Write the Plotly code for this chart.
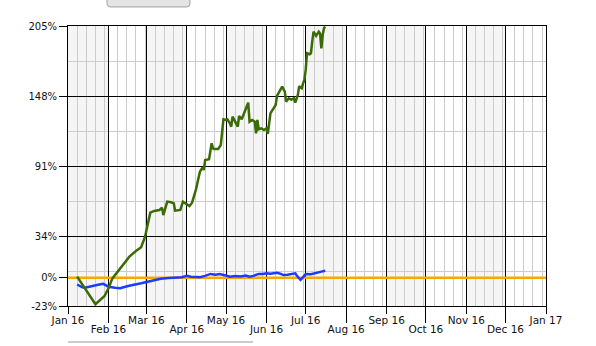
import plotly.graph_objects as go
import pandas as pd

# ---- data ----
green_dates = ["2016-01-08","2016-01-22","2016-01-29","2016-02-01","2016-02-04","2016-02-10","2016-02-17",
    "2016-02-22","2016-02-26","2016-02-29","2016-03-04","2016-03-07","2016-03-11","2016-03-13","2016-03-14",
    "2016-03-16","2016-03-17","2016-03-20","2016-03-22","2016-03-23","2016-03-27","2016-03-29","2016-03-31",
    "2016-04-02","2016-04-03","2016-04-05","2016-04-08","2016-04-11","2016-04-13","2016-04-14","2016-04-15",
    "2016-04-18","2016-04-20","2016-04-21","2016-04-22","2016-04-25","2016-04-27","2016-04-29","2016-05-01",
    "2016-05-02","2016-05-04","2016-05-05","2016-05-06","2016-05-08","2016-05-10","2016-05-11","2016-05-13",
    "2016-05-14","2016-05-16","2016-05-18","2016-05-19","2016-05-21","2016-05-23","2016-05-24","2016-05-25",
    "2016-05-26","2016-05-28","2016-05-30","2016-06-01","2016-06-02","2016-06-04","2016-06-06","2016-06-08",
    "2016-06-09","2016-06-10","2016-06-11","2016-06-13","2016-06-15","2016-06-16","2016-06-18","2016-06-20",
    "2016-06-22","2016-06-23","2016-06-25","2016-06-26","2016-06-27","2016-06-28","2016-06-29","2016-06-30",
    "2016-07-01","2016-07-02","2016-07-04","2016-07-05","2016-07-06","2016-07-07","2016-07-09","2016-07-11",
    "2016-07-12","2016-07-13","2016-07-14","2016-07-15","2016-07-16"]
green_values = [0.9,-21.6,-14.9,-8.6,-0.5,7.7,17.2,
    21.8,24.8,33.4,53,54.4,55.2,57,51,
    58.4,62,61.5,60.6,54.6,55.2,62,60.6,
    59.5,58.4,61.1,72,86.4,89.9,87.7,95.9,
    96.5,109.5,105.4,104.8,104.8,108.1,129,128.5,
    129,125.8,123,131.2,127.1,123,131.7,129,
    131.7,136.6,142.6,127.1,128.5,127.1,117.6,128.5,
    120.9,121.7,120.3,121.7,117.1,133.9,137.2,140.7,
    148,150.2,151.5,155.6,151.5,143.4,146.1,145,
    146.1,142.6,148.8,156,155,154.3,158.3,161,
    169.2,182.8,182,182.8,192.3,200.4,196.9,200.4,
    199,186.8,197.6,203.1,204.4]

blue_dates = ["2016-01-08","2016-01-12","2016-01-14","2016-01-19","2016-01-24","2016-01-28","2016-02-01",
    "2016-02-06","2016-02-10","2016-02-16","2016-02-21","2016-02-26","2016-03-02","2016-03-07","2016-03-12",
    "2016-03-18","2016-03-23","2016-03-28","2016-04-01","2016-04-04","2016-04-09","2016-04-11","2016-04-15",
    "2016-04-19","2016-04-23","2016-04-26","2016-04-30","2016-05-04","2016-05-08","2016-05-12","2016-05-16",
    "2016-05-19","2016-05-22","2016-05-26","2016-05-29","2016-06-01","2016-06-04","2016-06-09","2016-06-11",
    "2016-06-14","2016-06-17","2016-06-20","2016-06-23","2016-06-24","2016-06-26","2016-06-27","2016-06-29",
    "2016-07-01","2016-07-05","2016-07-09","2016-07-13","2016-07-16"]
blue_values = [-5.5,-7.8,-8.1,-6.7,-5.7,-5.0,-7.3,
    -8.1,-8.6,-6.7,-5.3,-4.5,-3.2,-1.8,-0.8,
    -0.2,0.0,0.4,1.6,0.9,0.6,0.4,1.5,
    3.1,2.5,3.1,2.0,0.9,1.5,1.0,1.8,
    0.8,1.5,3.1,3.0,3.6,3.3,4.1,3.5,
    2.2,2.5,2.8,3.6,2.0,-0.5,-1.8,0.5,
    3.1,2.8,4.1,5.0,5.7]

baseline_dates = ["2016-01-01", "2017-01-01"]
baseline_values = [0, 0]

y_ticks = [-23, 0, 34, 91, 148, 205]
y_minor = [5.5, 62.5, 119.5, 176.5]
month_starts = pd.date_range("2016-01-01", "2017-01-01", freq="MS")
month_labels = [d.strftime("%b %y") for d in month_starts]

# ---- figure ----
fig = go.Figure()
fig.add_trace(go.Scatter(x=baseline_dates, y=baseline_values, mode="lines",
                         line=dict(color="#ffa500", width=2.5), hoverinfo="skip"))
fig.add_trace(go.Scatter(x=blue_dates, y=blue_values, mode="lines",
                         line=dict(color="#1a3cff", width=2.5), hoverinfo="skip"))
fig.add_trace(go.Scatter(x=green_dates, y=green_values, mode="lines",
                         line=dict(color="#3b6b06", width=2.5), hoverinfo="skip"))

# alternating month shading
shapes = []
for i in range(0, 12, 2):
    shapes.append(dict(type="rect", xref="x", yref="paper", x0=month_starts[i], x1=month_starts[i + 1],
                       y0=0, y1=1, fillcolor="#f5f5f5", line=dict(width=0), layer="below"))
# scrollbar line at bottom
shapes.append(dict(type="line", xref="paper", yref="paper", x0=0, x1=0.387, y0=-0.1286, y1=-0.1286,
                   line=dict(color="#cccccc", width=2)))
# partial button at top
shapes.append(dict(type="path", xref="paper", yref="paper",
                   path="M 0.0816 1.12 L 0.0816 1.082 Q 0.0816 1.068 0.09 1.068 L 0.2485 1.068 Q 0.2552 1.068 0.2552 1.082 L 0.2552 1.12 Z",
                   fillcolor="#e4e4e4", line=dict(color="#a0a0a0", width=1)))

weekly = []
for d in month_starts[:-1]:
    for k in (7, 14, 21, 28):
        w = d + pd.Timedelta(days=k)
        if w.month == d.month:
            weekly.append(w)

font = dict(family="DejaVu Sans, Verdana, sans-serif", size=10, color="#111111")
xfont = dict(family="DejaVu Sans, Verdana, sans-serif", size=10.5, color="#111111")

fig.update_layout(
    width=596, height=346,
    margin=dict(l=68, r=50, t=26, b=40, autoexpand=False),
    paper_bgcolor="white", plot_bgcolor="white",
    showlegend=False, hovermode=False,
    shapes=shapes,
    font=font,
    xaxis=dict(
        type="date", range=["2016-01-01", "2017-01-01"], automargin=False,
        tickmode="array", tickvals=list(month_starts[0::2]), ticktext=month_labels[0::2],
        ticks="outside", ticklen=7, tickcolor="black", tickwidth=1, ticklabelstandoff=-3,
        showgrid=True, gridcolor="black", gridwidth=1,
        showline=True, linecolor="black", linewidth=1, mirror=True,
        zeroline=False, tickfont=xfont, tickangle=0,
        minor=dict(tickmode="array", tickvals=weekly, showgrid=True, gridcolor="#cccccc", gridwidth=1, ticks=""),
    ),
    xaxis2=dict(
        type="date", range=["2016-01-01", "2017-01-01"], overlaying="x", anchor="y", side="bottom",
        automargin=False,
        tickmode="array", tickvals=list(month_starts[1::2]), ticktext=month_labels[1::2],
        ticks="outside", ticklen=16, tickcolor="black", tickwidth=1, ticklabelstandoff=-3,
        showgrid=True, gridcolor="black", gridwidth=1,
        showline=False, zeroline=False, tickfont=xfont, tickangle=0,
    ),
    yaxis=dict(
        range=[-23, 205], automargin=False,
        tickmode="array", tickvals=y_ticks, ticktext=[f"{v}%" for v in y_ticks],
        ticks="outside", ticklen=8, tickcolor="black", tickwidth=1,
        showgrid=True, gridcolor="black", gridwidth=1,
        showline=True, linecolor="black", linewidth=1, mirror=True,
        zeroline=False, tickfont=font,
        minor=dict(tickmode="array", tickvals=y_minor, showgrid=True, gridcolor="#cccccc", gridwidth=1, ticks=""),
    ),
)
# invisible trace to activate xaxis2
fig.add_trace(go.Scatter(x=baseline_dates, y=baseline_values, xaxis="x2", mode="lines",
                         line=dict(width=0), opacity=0, hoverinfo="skip"))

fig.write_html("out.html")
